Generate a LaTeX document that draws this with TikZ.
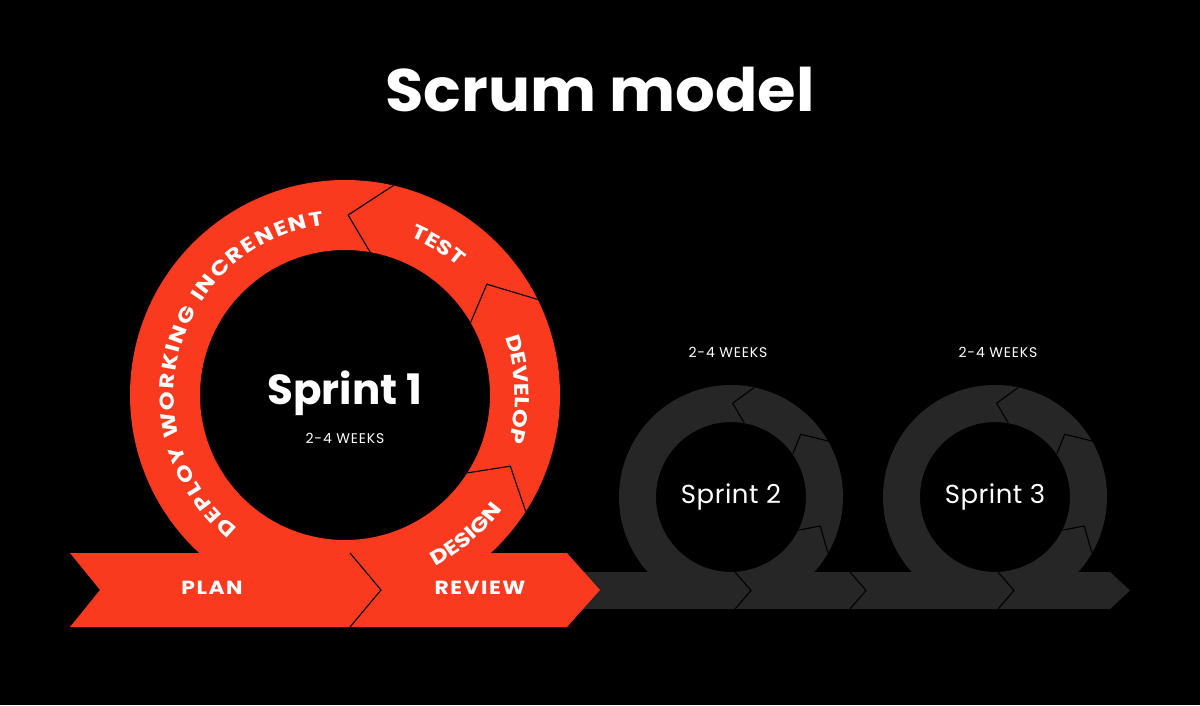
\documentclass[tikz,border=0pt]{standalone}
\usepackage{fontspec}
\setmainfont{Poppins}[BoldFont={* Bold}]
\usetikzlibrary{decorations.text,calc}
\definecolor{scred}{HTML}{F93A1F}
\definecolor{scgray}{HTML}{262626}
\tikzset{
  sep/.style={black,line width=1.1pt,line join=miter},
  lbl/.style={text=white,font=\bfseries\fontsize{19}{19}\selectfont\addfontfeature{LetterSpace=8,FakeStretch=1.15}},
  ringtxt/.style={decorate,decoration={text along path,text color=white,
     text={#1}}},
  weeks/.style={text=white,font=\fontsize{14}{14}\selectfont\addfontfeature{LetterSpace=6}},
}
\newcommand{\sepline}[5]{% center, r outer, angles i v o
  \draw[sep] ($(#1)+(#3:#2*0.6744)$) -- ($(#1)+(#4:#2*0.8372)$) -- ($(#1)+(#5:#2)$);}
\newcommand{\rf}{\bfseries\fontsize{20}{20}\selectfont\addfontfeature{FakeStretch=1.2}}
\begin{document}
\begin{tikzpicture}[x=1pt,y=1pt]
\fill[black] (0,0) rectangle (1200,705);
\useasboundingbox (0,0) rectangle (1200,705);
\node[text=white,font=\bfseries\fontsize{60}{60}\selectfont\addfontfeature{FakeStretch=1.04}] (title) at (600,615) {Scrum model};
% gray ring/band
\coordinate (c2) at (731,208);
\coordinate (c3) at (995,208);
\fill[scgray,even odd rule] (c2) circle[radius=112] (c2) circle[radius=75];
\fill[scgray,even odd rule] (c3) circle[radius=112] (c3) circle[radius=75];
\fill[scgray] (580,133) -- (1110,133) -- (1130,114.5) -- (1110,96) -- (580,96) -- cycle;
\foreach \x in {735,850,998}{\draw[sep] (\x,133) -- (\x+16,114.5) -- (\x,96);}
\foreach \c in {c2,c3}{
  \sepline{\c}{112}{80}{89}{78}
  \sepline{\c}{112}{35}{42}{30}
  \sepline{\c}{112}{-26}{-18}{-30}
}
% red ring/band
\coordinate (c1) at (345,310);
\fill[scred,even odd rule] (c1) circle[radius=215] (c1) circle[radius=145];
\fill[scred] (70,152) -- (567,152) -- (600,115) -- (567,78) -- (70,78) -- (100,115) -- cycle;
\draw[sep] (350,152) -- (381,115) -- (350,78);
\sepline{c1}{215}{80}{89}{77}
\sepline{c1}{215}{30}{38}{26.4}
\sepline{c1}{215}{-32.5}{-23.3}{-32.8}
% curved labels
\path[ringtxt={|\rf|DEPLOY WORKING INCRENENT},decoration={text align=fit to path}]
  ($(c1)+(231:171)$) arc[start angle=231,end angle=97,radius=171];
\path[ringtxt={|\rf|TEST},decoration={text align=center}]
  ($(c1)+(76:171)$) arc[start angle=76,end angle=40,radius=171];
\path[ringtxt={|\rf|DEVELOP},decoration={text align=center}]
  ($(c1)+(26:170)$) arc[start angle=26,end angle=-22,radius=170];
\path[ringtxt={|\rf|DESIGN},decoration={text align=center}]
  ($(c1)+(-70:194)$) arc[start angle=-70,end angle=-28,radius=194];
% texts
\node[text=white,font=\bfseries\fontsize{42}{42}\selectfont] (s1) at (345,312) {Sprint 1};
\node[weeks] (w1) at (345,267) {2-4 WEEKS};
\node[lbl] (plan) at (212,117) {PLAN};
\node[lbl] (review) at (480,117) {REVIEW};
\node[text=white,font=\fontsize{26}{26}\selectfont\addfontfeature{LetterSpace=2}] (s2) at (731,208) {Sprint 2};
\node[text=white,font=\fontsize{26}{26}\selectfont\addfontfeature{LetterSpace=2}] (s3) at (995,208) {Sprint 3};
\node[weeks] (w2) at (728,353) {2-4 WEEKS};
\node[weeks] (w3) at (998,353) {2-4 WEEKS};
\end{tikzpicture}
\end{document}
